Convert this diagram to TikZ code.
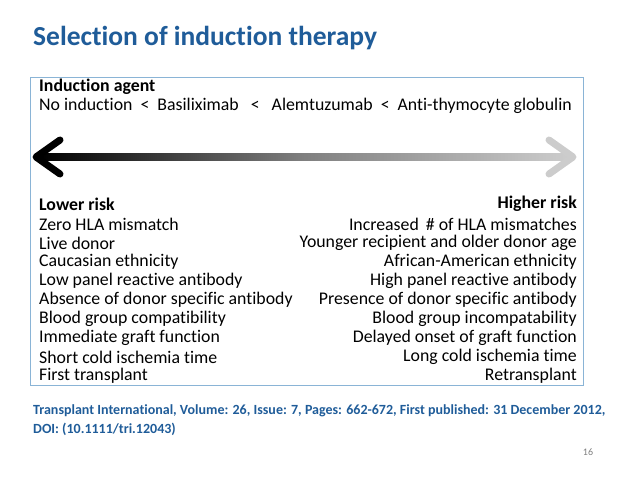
\documentclass[tikz,border=0pt]{standalone}
\usepackage{fontspec}
\setmainfont[Ligatures={NoCommon}]{Carlito}
\begin{document}
\begin{tikzpicture}[x=1pt,y=-1pt,
  body/.style={font=\fontsize{17.8}{20}\selectfont, inner sep=0pt},
  lbl/.style={body, anchor=west},
  rbl/.style={body, anchor=east}]
\definecolor{titleblue}{HTML}{1F5C99}
\definecolor{boxblue}{HTML}{8AB4D6}
\useasboundingbox (0,0) rectangle (638,478);
\node[anchor=west, inner sep=0pt, text=titleblue, font=\fontsize{27.5}{30}\selectfont\bfseries] (title) at (33,38) {Selection of induction therapy};
\draw[boxblue, line width=1pt] (30,78) rectangle (583,386);
\node[lbl, font=\fontsize{17.8}{20}\selectfont\bfseries] (ia) at (39,87) {Induction agent};
\node[lbl] (agents) at (39,106) {No induction \ <\ \ Basiliximab \ \ <\ \ \ Alemtuzumab \ <\ \ Anti-thymocyte globulin};
% arrow
\shade[left color=black, right color=black!20, middle color=black!50] (40,153.5) rectangle (568,160.5);
\draw[black, line width=7pt, line cap=round, line join=round] (60,140) -- (36,157) -- (60,174);
\draw[black!20, line width=7pt, line cap=round, line join=round] (549,140) -- (573,157) -- (549,174);
\node[lbl, font=\fontsize{17.8}{20}\selectfont\bfseries] (lr) at (39,204) {Lower risk};
\node[rbl, font=\fontsize{17.8}{20}\selectfont\bfseries] (hr) at (577,204) {Higher risk};
\foreach \i/\l/\r in {
 0/Zero HLA mismatch/{Increased \,\# of HLA mismatches},
 1/Live donor/Younger recipient and older donor age,
 2/Caucasian ethnicity/African-American ethnicity,
 3/Low panel reactive antibody/High panel reactive antibody,
 4/Absence of donor specific antibody/Presence of donor specific antibody,
 5/Blood group compatibility/Blood group incompatability,
 6/Immediate graft function/Delayed onset of graft function,
 7/Short cold ischemia time/Long cold ischemia time,
 8/First transplant/Retransplant} {
  \node[lbl] (l\i) at (39,224+19*\i) {\l};
  \node[rbl] (r\i) at (577,224+19*\i) {\r};
}
\node[anchor=west, inner sep=0pt, text=titleblue, font=\fontsize{14}{16}\selectfont\bfseries, align=left] (cite) at (33,420)
 {Transplant International, Volume: 26, Issue: 7, Pages: 662-672, First published: 31 December 2012,\\[3pt]DOI: (10.1111/tri.12043)};
\node[inner sep=0pt, text=black!50, font=\fontsize{10}{11}\selectfont] (pg) at (588,452) {16};
\end{tikzpicture}
\end{document}
